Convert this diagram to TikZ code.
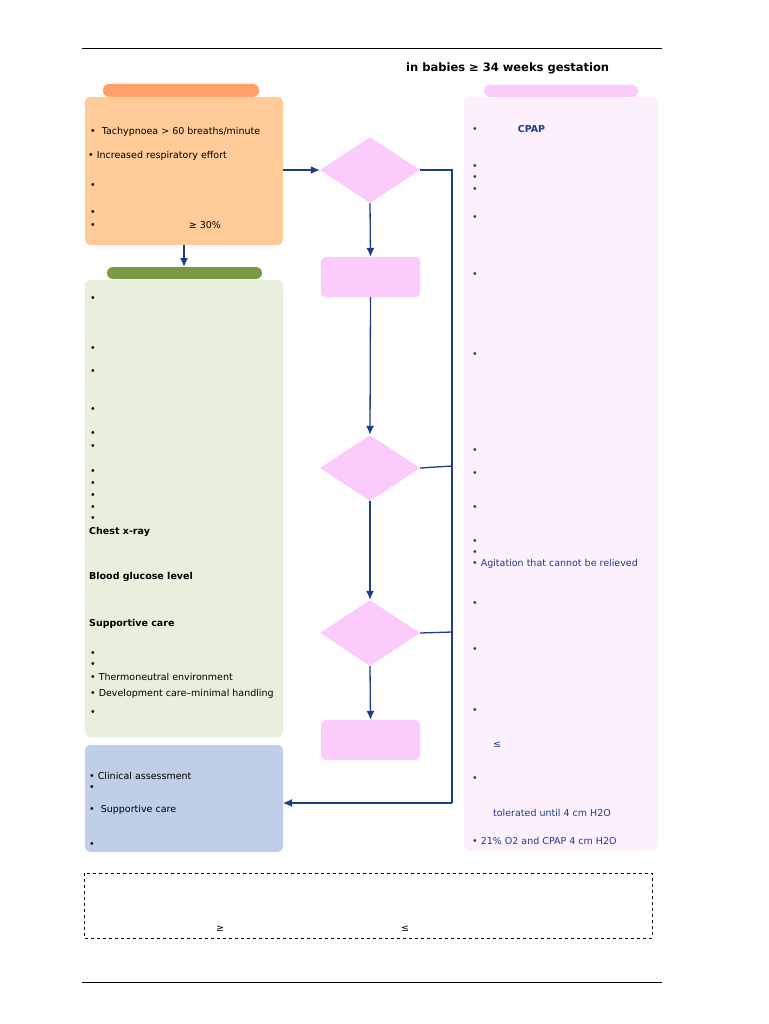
\documentclass[tikz,border=0pt]{standalone}
\usepackage{fontspec}
\setmainfont{DejaVu Sans}
\usetikzlibrary{shapes.geometric,arrows.meta}
\definecolor{dblue}{HTML}{1F3C88}
\definecolor{pinkf}{HTML}{FBCBFB}
\begin{document}
\begin{tikzpicture}[x=1pt,y=-1pt,
  box/.style={rounded corners=5pt,draw=none},
  pill/.style={rounded corners=6pt,draw=none},
  dia/.style={diamond,fill=pinkf,minimum width=100pt,minimum height=66pt,inner sep=0pt,aspect=1.5},
  prect/.style={rounded corners=4pt,fill=pinkf,minimum width=99pt,minimum height=40pt,inner sep=0pt},
  conn/.style={dblue,line width=1.3pt},
  arr/.style={conn,-{Latex[length=9pt,width=8pt]}},
  t/.style={font=\fontsize{9.5}{11}\selectfont,anchor=west,inner sep=0pt},
  bt/.style={t,font=\fontsize{9.5}{11}\selectfont\bfseries},
  bl/.style={t,text=dblue}]
\useasboundingbox (0,0) rectangle (768,1024);
\draw (82,48) -- (662,48);
\draw (82,982) -- (662,982);
\node[font=\fontsize{11.5}{14}\selectfont\bfseries,anchor=west,inner sep=0pt] (title) at (406,68) {in babies ≥ 34 weeks gestation};
% left column
\fill[pill,fill={rgb,255:red,255;green,159;blue,106}] (103,84) rectangle (259,97);
\fill[box,fill={rgb,255:red,255;green,204;blue,153}] (85,97) rectangle (283,245);
\node[t] (o1) at (90,132) {\textbullet\ \ Tachypnoea > 60 breaths/minute};
\node[t] (o2) at (88,156) {\textbullet\ Increased respiratory effort};
\node[t] (o3) at (90,186) {\textbullet};
\node[t] (o4) at (90,213) {\textbullet};
\node[t] (o5) at (90,225) {\textbullet\hspace{93pt}≥ 30\%};
\coordinate (ob) at (184,245);
\coordinate (gt) at (184,267);
\draw[arr] (ob) -- (gt);
\fill[pill,fill={rgb,255:red,122;green,154;blue,69}] (107,267) rectangle (262,279);
\fill[box,fill={rgb,255:red,233;green,239;blue,221}] (85,280) rectangle (283,737);
\foreach \y in {299,349,372,410,434,447,472,484,496,508,519,654,665,713}
  \node[t] at (90,\y) {\textbullet};
\node[bt] (cx) at (89,532) {Chest x-ray};
\node[bt] (bg) at (89,577) {Blood glucose level};
\node[bt] (sc) at (89,624) {Supportive care};
\node[t] (te) at (90,677) {\textbullet\ Thermoneutral environment};
\node[t] (dc) at (90,694) {\textbullet\ Development care–minimal handling};
\fill[box,fill={rgb,255:red,191;green,207;blue,232}] (85,745) rectangle (283,852);
\node[t] at (89,776) {\textbullet\ Clinical assessment};
\node[t] at (89,788) {\textbullet};
\node[t] at (89,810) {\textbullet\ \ Supportive care};
\node[t] at (89,845) {\textbullet};
\coordinate (blr) at (283,803);
% middle
\node[dia] (d1) at (370,170) {};
\node[prect] (r1) at (370.5,277) {};
\node[dia] (d2) at (370,468) {};
\node[dia] (d3) at (370,633) {};
\node[prect] (r2) at (370.5,740) {};
\coordinate (ol) at (283,170);
\draw[arr] (ol) -- (d1.west);
\draw[arr] (d1.south) -- (r1.north);
\draw[arr] (r1.south) -- (d2.north);
\draw[arr] (d2.south) -- (d3.north);
\draw[arr] (d3.south) -- (r2.north);
\coordinate (c1) at (452,170);
\coordinate (c2) at (452,803);
\draw[conn] (d1.east) -- (c1) -- (c2);
\draw[arr] (c2) -- (blr);
\draw[conn] (d2.east) -- (452,466);
\draw[conn] (d3.east) -- (452,632);
% right
\fill[pill,fill=pinkf] (484,85) rectangle (638,97);
\fill[box,fill={rgb,255:red,253;green,240;blue,253}] (464,97) rectangle (658,851);
\node[bl] at (472,129) {\textbullet\hspace{40pt}\textbf{CPAP}};
\foreach \y in {167,178,190,218,275,355,451,474,508,542,553,604,650,711,779}
  \node[bl] at (472,\y) {\textbullet};
\node[bl] at (472,564) {\textbullet\ Agitation that cannot be relieved};
\node[bl] at (493,745) {≤};
\node[bl] at (493,813) {tolerated until 4 cm H2O};
\node[bl] at (472,841) {\textbullet\ 21\% O2 and CPAP 4 cm H2O};
% dashed box
\draw[dashed] (84,873) rectangle (652,938);
\node[t,anchor=center] at (220,929) {≥};
\node[t,anchor=center] at (405,929) {≤};
\end{tikzpicture}
\end{document}
